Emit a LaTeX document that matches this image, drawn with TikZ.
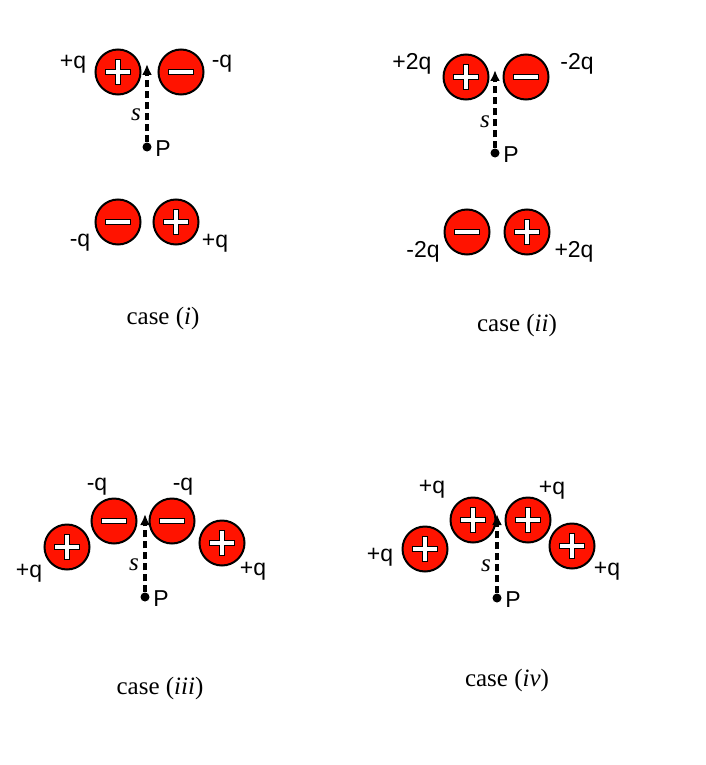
\documentclass[tikz,border=0pt]{standalone}
\usepackage{fontspec}
\usetikzlibrary{arrows.meta}
\setmainfont{Liberation Serif}
\newfontfamily\lab{Liberation Sans}
\begin{document}
\begin{tikzpicture}[x=1pt,y=-1pt,
 chg/.style={circle,draw=black,line width=2pt,fill=red!85!orange,minimum size=45pt,inner sep=0pt},
 ql/.style={font=\lab\fontsize{23}{25}\selectfont},
 cl/.style={font=\fontsize{25}{27}\selectfont},
 sl/.style={font=\itshape\fontsize{25}{27}\selectfont},
 arr/.style={-{Latex[length=11pt,width=10pt]},line width=3.2pt,dash pattern=on 7pt off 4pt},
 pdot/.style={circle,fill=black,inner sep=0pt,minimum size=9pt}]
\useasboundingbox (0,0) rectangle (706,765);
\newcommand{\plus}[1]{%
 \draw[line width=6.5pt] ([xshift=-13pt]#1.center)--([xshift=13pt]#1.center) ([yshift=-13pt]#1.center)--([yshift=13pt]#1.center);
 \draw[white,line width=3.4pt] ([xshift=-12pt]#1.center)--([xshift=12pt]#1.center) ([yshift=-12pt]#1.center)--([yshift=12pt]#1.center);}
\newcommand{\minus}[1]{%
 \draw[line width=6.5pt] ([xshift=-13pt]#1.center)--([xshift=13pt]#1.center);
 \draw[white,line width=3.4pt] ([xshift=-12pt]#1.center)--([xshift=12pt]#1.center);}
% case i
\node[chg] (a1) at (118,72) {}; \plus{a1}
\node[chg] (a2) at (181,72) {}; \minus{a2}
\node[pdot] (p1) at (147,147) {};
\coordinate (t1) at (147,64);
\draw[arr] (p1)--(t1);
\node[sl] (s1) at (136,115) {s};
\node[ql] (P1) at (163,149) {P};
\node[ql] (la1) at (73,64) {+q};
\node[ql] (la2) at (222,64) {-q};
\node[chg] (a3) at (118,222) {}; \minus{a3}
\node[chg] (a4) at (176,222) {}; \plus{a4}
\node[ql] (la3) at (80,243) {-q};
\node[ql] (la4) at (215,243) {+q};
\node[cl] (c1) at (163,318) {case (\textit{i})};
% case ii
\node[chg] (b1) at (466,77) {}; \plus{b1}
\node[chg] (b2) at (526,77) {}; \minus{b2}
\node[pdot] (p2) at (495,153) {};
\coordinate (t2) at (495,70);
\draw[arr] (p2)--(t2);
\node[sl] (s2) at (485,122) {s};
\node[ql] (P2) at (511,155) {P};
\node[ql] (lb1) at (412,64) {+2q};
\node[ql] (lb2) at (577,64) {-2q};
\node[chg] (b3) at (467,232) {}; \minus{b3}
\node[chg] (b4) at (527,232) {}; \plus{b4}
\node[ql] (lb3) at (423,252) {-2q};
\node[ql] (lb4) at (574,252) {+2q};
\node[cl] (c2) at (517,325) {case (\textit{ii})};
% case iii
\node[chg] (d1) at (67,547) {}; \plus{d1}
\node[chg] (d2) at (114,521) {}; \minus{d2}
\node[chg] (d3) at (172,521) {}; \minus{d3}
\node[chg] (d4) at (222,543) {}; \plus{d4}
\node[pdot] (p3) at (145,597) {};
\coordinate (t3) at (145,514);
\draw[arr] (p3)--(t3);
\node[sl] (s3) at (134,565) {s};
\node[ql] (P3) at (161,599) {P};
\node[ql] (ld1) at (29,573) {+q};
\node[ql] (ld2) at (97,487) {-q};
\node[ql] (ld3) at (183,487) {-q};
\node[ql] (ld4) at (253,571) {+q};
\node[cl] (c3) at (160,688) {case (\textit{iii})};
% case iv
\node[chg] (e1) at (425,549) {}; \plus{e1}
\node[chg] (e2) at (473,520) {}; \plus{e2}
\node[chg] (e3) at (528,520) {}; \plus{e3}
\node[chg] (e4) at (572,546) {}; \plus{e4}
\node[pdot] (p4) at (497,598) {};
\coordinate (t4) at (497,514);
\draw[arr] (p4)--(t4);
\node[sl] (s4) at (486,566) {s};
\node[ql] (P4) at (513,600) {P};
\node[ql] (le1) at (380,557) {+q};
\node[ql] (le2) at (432,489) {+q};
\node[ql] (le3) at (552,490) {+q};
\node[ql] (le4) at (607,571) {+q};
\node[cl] (c4) at (507,680) {case (\textit{iv})};
\end{tikzpicture}
\end{document}
